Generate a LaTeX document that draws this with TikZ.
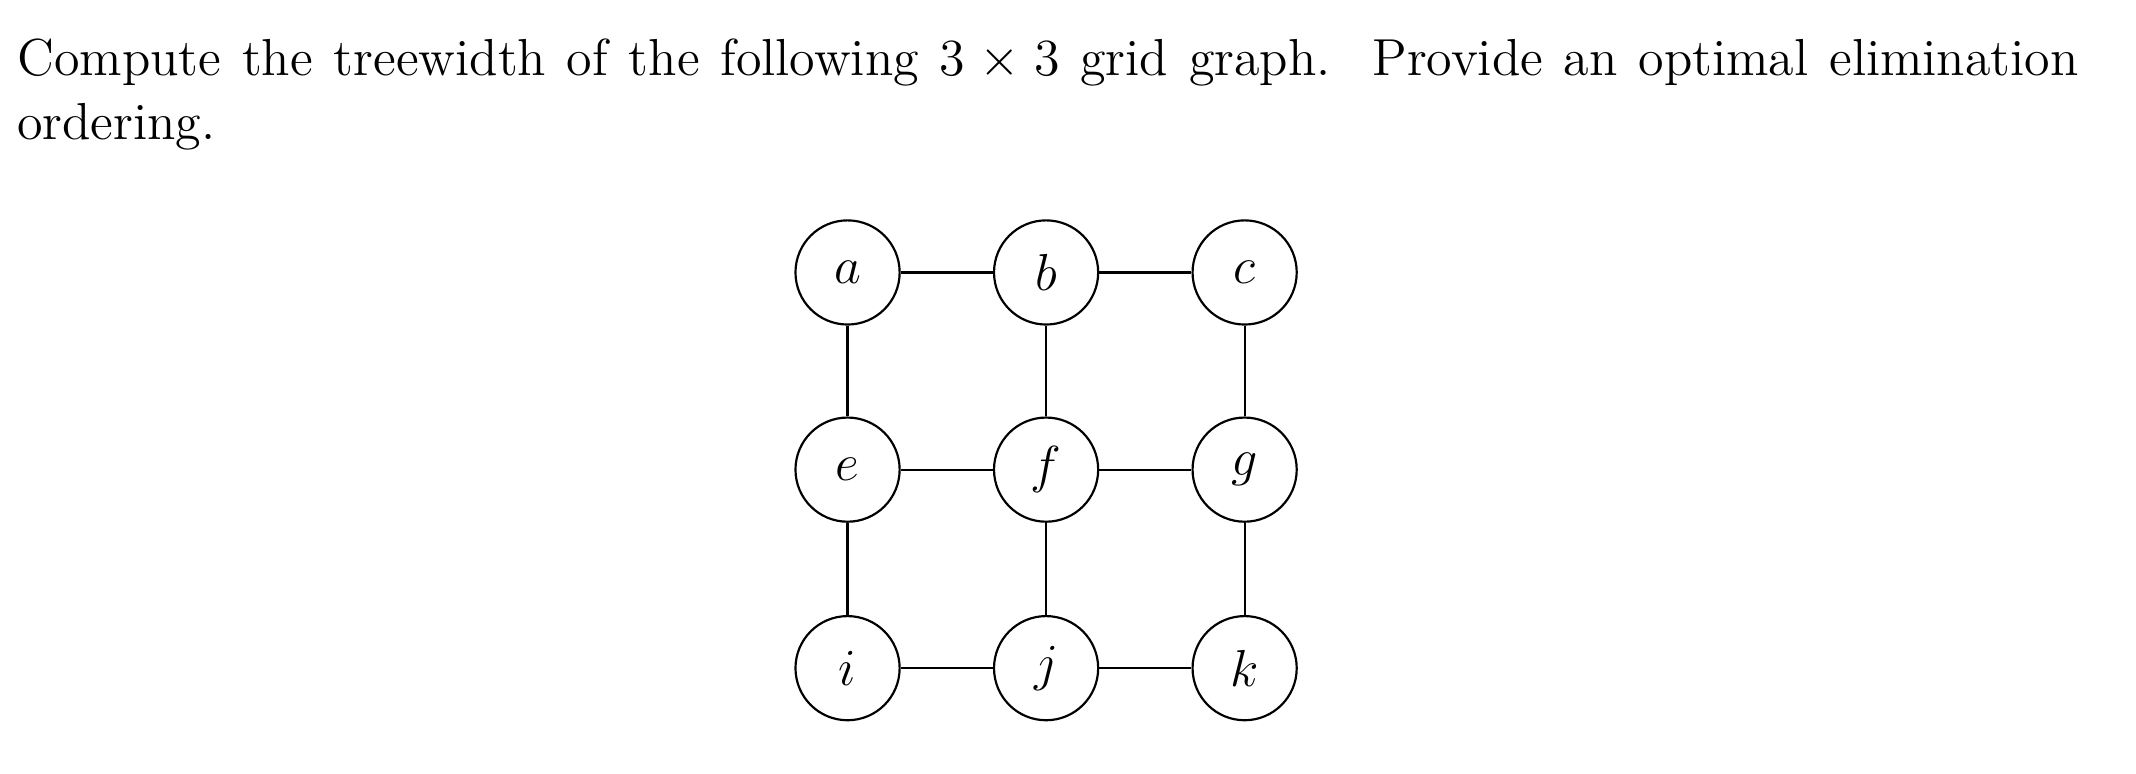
\documentclass[tikz,border=0pt]{standalone}
\begin{document}
\begin{tikzpicture}[x=0.3155pt,y=-0.3155pt,
  vtx/.style={draw,circle,minimum size=24pt,inner sep=0pt,line width=0.5pt,font=\fontsize{12}{14}\selectfont},
  edge/.style={line width=0.5pt}]
\useasboundingbox (0,0) rectangle (1560,565);
\node[anchor=north west,text width=475pt,align=justify,inner sep=0pt,font=\fontsize{12}{14.6}\selectfont] (txt) at (12,28)
{Compute the treewidth of the following $3\times 3$ grid graph.\ \ Provide an optimal elimination ordering.};
\node[vtx] (a) at (619,199) {$a$};
\node[vtx] (b) at (764,199) {$b$};
\node[vtx] (c) at (909,199) {$c$};
\node[vtx] (e) at (619,343) {$e$};
\node[vtx] (f) at (764,343) {$f$};
\node[vtx] (g) at (909,343) {$g$};
\node[vtx] (i) at (619,488) {$i$};
\node[vtx] (j) at (764,488) {$j$};
\node[vtx] (k) at (909,488) {$k$};
\draw[edge] (a)--(b) (b)--(c) (e)--(f) (f)--(g) (i)--(j) (j)--(k)
  (a)--(e) (e)--(i) (b)--(f) (f)--(j) (c)--(g) (g)--(k);
\end{tikzpicture}
\end{document}
